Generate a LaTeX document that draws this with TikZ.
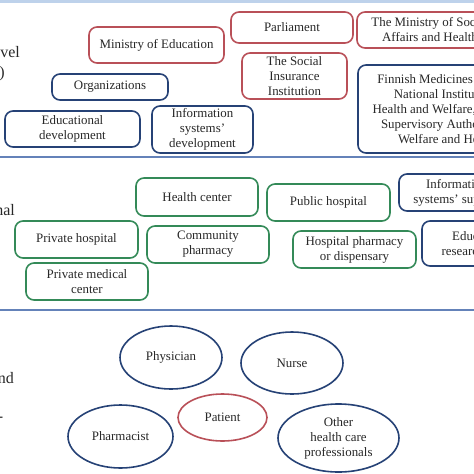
\documentclass[tikz,border=0pt]{standalone}
\usepackage{fontspec}
\setmainfont{Liberation Serif}
\usetikzlibrary{shapes.geometric}
\definecolor{redb}{RGB}{185,80,88}
\definecolor{blueb}{RGB}{38,66,118}
\definecolor{greenb}{RGB}{52,138,88}
\definecolor{sepc}{RGB}{100,130,185}
\definecolor{topband}{RGB}{190,210,235}
\definecolor{txt}{RGB}{40,40,40}
\tikzset{
  box/.style={rounded corners=8pt, line width=1.6pt, align=center, inner sep=0pt,
    text=txt, font=\fontsize{12.9}{15}\selectfont},
  rbox/.style={box, draw=redb},
  bbox/.style={box, draw=blueb},
  gbox/.style={box, draw=greenb},
  ell/.style={ellipse, line width=1.6pt, align=center, inner sep=0pt,
    text=txt, font=\fontsize{12.9}{15}\selectfont},
  bell/.style={ell, draw=blueb},
  rell/.style={ell, draw=redb},
  lvl/.style={text=txt, font=\fontsize{16}{19}\selectfont, inner sep=0pt},
  sep/.style={draw=sepc, line width=1.3pt}
}
\begin{document}
\begin{tikzpicture}[x=1pt,y=-1pt]
\useasboundingbox (0,0) rectangle (474,474);
\clip (0,0) rectangle (474,474);
\fill[white] (0,0) rectangle (474,474);
\fill[topband] (0,0) rectangle (474,2.5);
\coordinate (s1a) at (0,157);
\coordinate (s1b) at (474,157);
\coordinate (s2a) at (0,310);
\coordinate (s2b) at (474,310);
\draw[sep] (s1a) -- (s1b);
\draw[sep] (s2a) -- (s2b);

% level labels (cut at left edge, as in the reference)
\node[lvl, anchor=base east] (l1) at (20,57) {Macro level};
\node[lvl, anchor=base east] (l1b) at (5,77) {(policy)};
\node[lvl, anchor=base east] (l2) at (15,215) {Organizational};
\node[lvl, anchor=base east] (l3) at (14,383) {individual and};
\node[lvl, anchor=base east] (l3b) at (3.5,421) {-};

% panel 1
\node[rbox, minimum width=135, minimum height=36] (moe) at (156.5,45) {Ministry of Education};
\node[rbox, minimum width=122, minimum height=31] (parl) at (292,27.5) {Parliament};
\node[rbox, minimum width=146, minimum height=36] (msah) at (430,30) {The Ministry of Social\\Affairs and Health};
\node[rbox, minimum width=105, minimum height=46] (sii) at (294.5,76) {The Social\\Insurance\\Institution};
\node[bbox, minimum width=116, minimum height=26] (org) at (110,87) {Organizations};
\node[bbox, minimum width=135, minimum height=36] (edu) at (72.5,129) {Educational\\development};
\node[bbox, minimum width=101, minimum height=47] (isd) at (202.5,129.5) {Information\\systems'\\development};
\node[bbox, minimum width=180, minimum height=88] (fim) at (448,109) {Finnish Medicines Agency,\\National Institute for\\Health and Welfare, National\\Supervisory Authority for\\Welfare and Health};

% panel 2
\node[gbox, minimum width=122, minimum height=38] (hc) at (197,197) {Health center};
\node[gbox, minimum width=123, minimum height=37] (puh) at (328.5,202.5) {Public hospital};
\node[bbox, minimum width=116, minimum height=37] (iss) at (457,192.5) {Information\\systems' support};
\node[gbox, minimum width=123, minimum height=37] (prh) at (76.5,239.5) {Private hospital};
\node[gbox, minimum width=122, minimum height=37] (cp) at (208,244.5) {Community\\pharmacy};
\node[gbox, minimum width=122, minimum height=37] (pmc) at (87,281.5) {Private medical\\center};
\node[gbox, minimum width=123, minimum height=37] (hpd) at (354.5,249.5) {Hospital pharmacy\\or dispensary};
\node[bbox, minimum width=122, minimum height=45] (er) at (483,243.5) {Educational\\research centers};

% panel 3
\node[bell, minimum width=102, minimum height=63] (phy) at (171,357.5) {Physician};
\node[bell, minimum width=102, minimum height=62] (nur) at (292,363) {Nurse};
\node[rell, minimum width=89, minimum height=47] (pat) at (222.5,417.5) {Patient};
\node[bell, minimum width=105, minimum height=63] (pha) at (120.5,436.5) {Pharmacist};
\node[bell, minimum width=121, minimum height=68] (oth) at (338.5,438) {Other\\health care\\professionals};
\end{tikzpicture}
\end{document}
